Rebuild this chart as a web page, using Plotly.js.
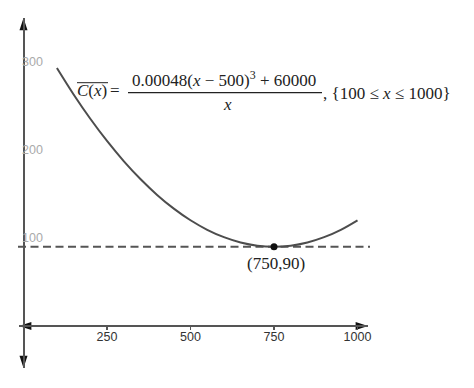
<!DOCTYPE html>
<html><head><meta charset="utf-8">
<script src="https://cdn.plot.ly/plotly-3.0.1.min.js"></script>
<style>html,body{margin:0;padding:0;background:#fff}</style>
</head><body><div id="chart" style="width:474px;height:388px"></div>
<script>
// ---- data ----
const xValues = [100,150,200,250,300,350,400,450,500,550,600,650,700,750,800,850,900,950,1000];
const costValues = [292.8,262.8,235.2,210,187.2,166.8,148.8,133.2,120,109.2,100.8,94.8,91.2,90,91.2,94.8,100.8,109.2,120];
const xTickValues = [250,500,750,1000];
const xTickLabels = ['250','500','750','1000'];
const yTickValues = [100,200,300];
const yTickLabels = ['100','200','300'];
const eqLeft = '<i>C</i>(<i>x</i>)';
const eqEquals = '=';
const eqNumerator = '0.00048(<i>x</i> \u2212 500)<sup>3</sup> + 60000';
const eqDenominator = '<i>x</i>';
const eqDomain = ', {100 \u2264 <i>x</i> \u2264 1000}';

// ---- layout geometry ----
const W = 474, H = 388;
const P = px => px / W;
const Q = py => 1 - py / H;
const xRange = [-13.5, 1031.4];
const yRange = [-47.7, 349.6];
const xDomain = [P(19), P(368)];
const yDomain = [Q(368), Q(18)];
const xToPaper = v => xDomain[0] + (v - xRange[0]) / (xRange[1] - xRange[0]) * (xDomain[1] - xDomain[0]);
const yToPaper = v => yDomain[0] + (v - yRange[0]) / (yRange[1] - yRange[0]) * (yDomain[1] - yDomain[0]);

let minIdx = 0;
costValues.forEach((v, i) => { if (v < costValues[minIdx]) minIdx = i; });
const minX = xValues[minIdx], minCost = costValues[minIdx];

const serif = 'Liberation Serif, Times New Roman, serif';
const eqFont = {family: serif, size: 17, color: '#222'};

const traces = [
  {x: xValues, y: costValues, mode: 'lines', line: {color: '#4d4d4d', width: 2, shape: 'spline', smoothing: 1}, hoverinfo: 'skip'},
  {x: [minX], y: [minCost], mode: 'markers', marker: {color: '#111', size: 7}, hoverinfo: 'skip'},
  {x: [xRange[1], xRange[0], 0, 0], y: [0, 0, yRange[1], yRange[0]], mode: 'markers', cliponaxis: false,
   marker: {symbol: 'arrow', size: 13, angle: [90, -90, 0, 180], color: '#111', line: {width: 0}}, hoverinfo: 'skip'}
];

const layout = {
  width: W, height: H,
  margin: {l: 0, r: 0, t: 0, b: 0, pad: 0},
  paper_bgcolor: '#fff', plot_bgcolor: 'rgba(0,0,0,0)',
  showlegend: false,
  xaxis: {
    domain: xDomain, range: xRange, anchor: 'free', position: yToPaper(0),
    showline: true, linecolor: '#555', linewidth: 2, showgrid: false, zeroline: false,
    ticks: 'outside', ticklen: 3, tickwidth: 1.2, tickcolor: '#555',
    tickvals: xTickValues, ticktext: xTickLabels, ticklabelstandoff: -4,
    tickfont: {family: 'Liberation Sans, Arial, sans-serif', size: 12.5, color: '#333'}
  },
  yaxis: {
    domain: yDomain, range: yRange, anchor: 'free', position: xToPaper(0),
    showline: true, linecolor: '#555', linewidth: 2, showgrid: false, zeroline: false,
    ticks: '', tickvals: yTickValues, ticktext: yTickLabels,
    ticklabelposition: 'inside', ticklabelstandoff: -3,
    tickfont: {family: 'Liberation Sans, Arial, sans-serif', size: 12.5, color: '#aaa'}
  },
  shapes: [
    {type: 'line', xref: 'paper', yref: 'paper', x0: P(18), x1: P(370), y0: yToPaper(minCost), y1: yToPaper(minCost),
     line: {color: '#555', width: 2, dash: '8px,4.5px'}, layer: 'below'},
    {type: 'line', xref: 'paper', yref: 'paper', x0: P(77), x1: P(108), y0: Q(82.7), y1: Q(82.7), line: {color: '#222', width: 1}},
    {type: 'line', xref: 'paper', yref: 'paper', x0: P(128), x1: P(322), y0: Q(92.7), y1: Q(92.7), line: {color: '#222', width: 1.2}}
  ],
  annotations: [
    {xref: 'paper', yref: 'paper', x: P(92.3), y: Q(90.5), text: eqLeft, showarrow: false, xanchor: 'center', yanchor: 'middle', font: eqFont},
    {xref: 'paper', yref: 'paper', x: P(115), y: Q(90), text: eqEquals, showarrow: false, xanchor: 'center', yanchor: 'middle', font: eqFont},
    {xref: 'paper', yref: 'paper', x: P(224), y: Q(79.5), text: eqNumerator, showarrow: false, xanchor: 'center', yanchor: 'middle', font: eqFont},
    {xref: 'paper', yref: 'paper', x: P(227), y: Q(105), text: eqDenominator, showarrow: false, xanchor: 'center', yanchor: 'middle', font: eqFont},
    {xref: 'paper', yref: 'paper', x: P(321), y: Q(93), text: eqDomain, showarrow: false, xanchor: 'left', yanchor: 'middle', font: eqFont},
    {x: minX, y: minCost, text: '(' + minX + ',' + minCost + ')', showarrow: false, xanchor: 'center', yanchor: 'middle', yshift: -17, xshift: 2, font: eqFont}
  ]
};

Plotly.newPlot('chart', traces, layout, {displayModeBar: false, staticPlot: true});
</script>
</body></html>
